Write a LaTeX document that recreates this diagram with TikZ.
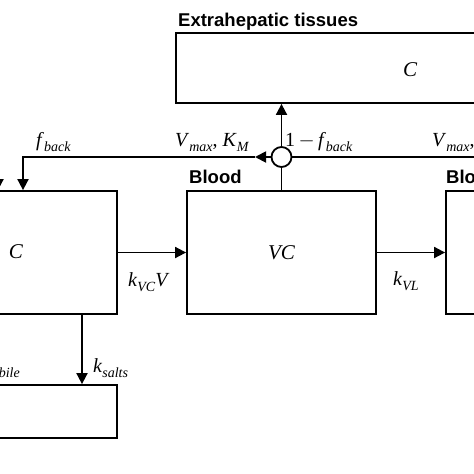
\documentclass[tikz,border=0pt]{standalone}
\usepackage{fontspec}
\setmainfont{Liberation Serif}
\newfontfamily\hdfont{Liberation Sans}
\usetikzlibrary{arrows.meta}
\newcommand\sbx[1]{\raisebox{-0.28em}{\fontsize{14}{14}\selectfont\textit{#1}}}
\tikzset{
  box/.style={draw, line width=1.8pt, rectangle, inner sep=0pt, font=\fontsize{21}{21}\selectfont\itshape},
  lab/.style={inner sep=0pt, font=\fontsize{20}{20}\selectfont},
  hd/.style={inner sep=0pt, font=\fontsize{18.5}{18.5}\selectfont\hdfont\bfseries},
  con/.style={line width=1.8pt},
  arr/.style={line width=1.8pt, -{Triangle[length=11pt,width=11pt]}},
}
\begin{document}
\begin{tikzpicture}[x=1pt,y=-1pt]
\useasboundingbox (0,0) rectangle (474,474);
\clip (0,0) rectangle (474,474);
% boxes
\node[box, minimum width=324pt, minimum height=70pt] (ext) at (338,68) {};
\node[inner sep=0pt, font=\fontsize{21}{21}\selectfont\itshape] (extc) at (410,70) {C};
\node[box, minimum width=137pt, minimum height=123pt] (liver) at (48.5,252.5) {};
\node[inner sep=0pt, font=\fontsize{21}{21}\selectfont\itshape] (liverc) at (16,252) {C};
\node[box, minimum width=189pt, minimum height=123pt] (blood) at (281.5,252.5) {VC};
\node[box, minimum width=54pt, minimum height=123pt] (rbox) at (473,252.5) {};
\node[box, minimum width=137pt, minimum height=53pt] (bot) at (48.5,411.5) {};
\node[draw, circle, line width=1.8pt, minimum size=20pt, inner sep=0pt, fill=white] (junc) at (281.5,157) {};
% headings
\node[hd, anchor=base west] (exthd) at (178,26) {Extrahepatic tissues};
\node[hd, anchor=base west] (bloodhd) at (189,183) {Blood};
\node[hd, anchor=base west] (rhd) at (446,183) {Blood};
% connectors
\coordinate (tipL) at (255,157);
\coordinate (fbk) at (23,157);
\coordinate (farL) at (-2,157);
\coordinate (farR) at (480,157);
\coordinate (kx) at (82,0);
\draw[con] (junc.south) -- (blood.north -| junc);
\draw[arr] (junc.north) -- (ext.south -| junc);
\draw[arr] (junc.west) -- (tipL);
\draw[arr] (tipL) -- (fbk) -- (fbk |- liver.north);
\draw[con] (junc.east) -- (farR);
\draw[arr] (farL) -- (farL |- liver.north);
\draw[arr] (liver.east) -- (blood.west);
\draw[arr] (blood.east) -- (rbox.west);
\draw[arr] (kx |- liver.south) -- (kx |- bot.north);
% labels
\node[lab, anchor=base west] (lfb) at (36,146) {\textit{f}\sbx{back}};
\node[lab, anchor=base west] (lvk) at (175,146) {\textit{V}\sbx{max}, \textit{K}\sbx{M}};
\node[lab, anchor=base west] (l1f) at (285,146) {1\,$-$\,\textit{f}\sbx{back}};
\node[lab, anchor=base west] (lvr) at (432,146) {\textit{V}\sbx{max}, \textit{K}\sbx{M}};
\node[lab, anchor=base west] (lkvc) at (128,286) {\textit{k}\sbx{VC}\textit{V}};
\node[lab, anchor=base west] (lkvl) at (393,285) {\textit{k}\sbx{VL}};
\node[lab, anchor=base west] (lks) at (93,372) {\textit{k}\sbx{salts}};
\node[lab, anchor=base east] (lkb) at (20,372) {\textit{k}\sbx{bile}};
\end{tikzpicture}
\end{document}
